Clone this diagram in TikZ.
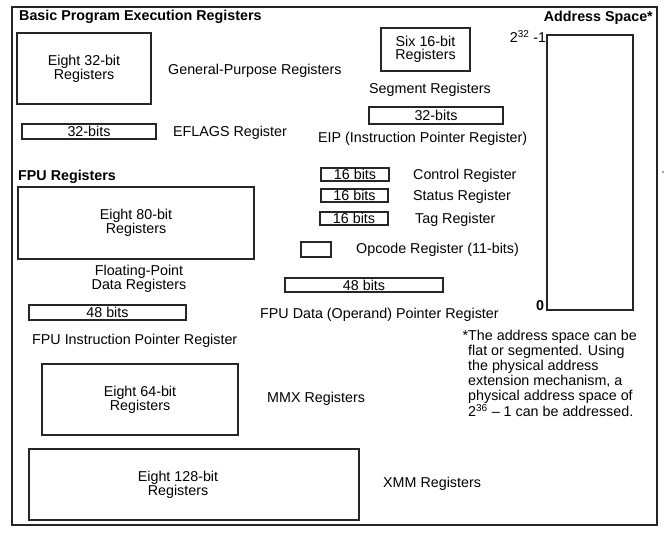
\documentclass[tikz,border=0pt]{standalone}
\usepackage{fontspec}
\setmainfont{Liberation Sans}

\begin{document}
\begin{tikzpicture}[x=1pt,y=-1pt,
    every node/.style={font=\fontsize{14.3}{13}\selectfont, inner sep=0pt},
    regbox/.style={draw=black!85, line width=1.3pt, align=center},
    lbl/.style={anchor=base west},
    hdr/.style={anchor=base west, font=\fontsize{14.3}{13}\selectfont\bfseries}]
    \useasboundingbox (0,0) rectangle (668,532);
    \draw[line width=1.3pt, black!85] (12,7) rectangle (657,525);

    % basic program execution registers
    \node[hdr] (basic) at (19,21) {Basic Program Execution Registers};
    \node[regbox, minimum width=134pt, minimum height=71pt] (gpr) at (84,68.5) {Eight 32-bit\\Registers};
    \node[lbl] (gprlbl) at (168,75) {General-Purpose Registers};
    \node[regbox, minimum width=134pt, minimum height=15pt] (eflags) at (89,131.5) {32-bits};
    \node[lbl] (eflagslbl) at (173,136) {EFLAGS Register};
    \node[regbox, minimum width=89pt, minimum height=43pt] (seg) at (425.5,49.5) {Six 16-bit\\Registers};
    \node[lbl] (seglbl) at (369,93) {Segment Registers};
    \node[regbox, minimum width=134pt, minimum height=17pt] (eip) at (436,115.5) {32-bits};
    \node[lbl] (eiplbl) at (318,142) {EIP (Instruction Pointer Register)};

    % address space
    \node[hdr, anchor=base east] (addrhdr) at (653,22) {Address Space*};
    \node[regbox, minimum width=86pt, minimum height=275pt] (addr) at (590,172.5) {};
    \node[anchor=base east] (top) at ([yshift=-8pt]addr.north west) {2\textsuperscript{32} -1};
    \node[anchor=base east, font=\fontsize{14.3}{13}\selectfont\bfseries] (bot) at ([xshift=-2pt]addr.south west) {0};
    \fill[black!70] (663,172) circle (0.9pt);

    % fpu registers
    \node[hdr] (fpuhdr) at (18,180) {FPU Registers};
    \node[regbox, minimum width=236pt, minimum height=72pt] (fpudata) at (136,223) {Eight 80-bit\\Registers};
    \node[align=center] (fpudatalbl) at (139,279) {Floating-Point\\Data Registers};
    \node[regbox, minimum width=68pt, minimum height=13pt] (ctrl) at (355,174.5) {16 bits};
    \node[lbl] (ctrllbl) at (413,179) {Control Register};
    \node[regbox, minimum width=67pt, minimum height=13pt] (status) at (354.5,195.5) {16 bits};
    \node[lbl] (statuslbl) at (413,200) {Status Register};
    \node[regbox, minimum width=68pt, minimum height=13pt] (tag) at (354,218.5) {16 bits};
    \node[lbl] (taglbl) at (415,223) {Tag Register};
    \node[regbox, minimum width=30pt, minimum height=15pt] (opcode) at (316,249.5) {};
    \node[lbl] (opcodelbl) at (356,253) {Opcode Register (11-bits)};
    \node[regbox, minimum width=158pt, minimum height=14pt] (fdp) at (364,285) {48 bits};
    \node[lbl] (fdplbl) at (260,318) {FPU Data (Operand) Pointer Register};
    \node[regbox, minimum width=157pt, minimum height=15pt] (fip) at (107.5,312.5) {48 bits};
    \node[lbl] (fiplbl) at (32,344) {FPU Instruction Pointer Register};

    % footnote
    \node[anchor=north west, align=left, font=\fontsize{14.3}{15}\selectfont] (note) at (468,330)
        {\llap{*}The address space can be\\flat or segmented. Using\\the physical address\\extension mechanism, a\\physical address space of\\2\textsuperscript{36} -- 1 can be addressed.};

    % mmx and xmm
    \node[regbox, minimum width=196pt, minimum height=71pt] (mmx) at (140,399.5) {Eight 64-bit\\Registers};
    \node[lbl] (mmxlbl) at (267,402) {MMX Registers};
    \node[regbox, minimum width=330pt, minimum height=71pt] (xmm) at (194,484.5) {};
    \node[align=center] (xmmtxt) at ([xshift=-16pt]xmm.center) {Eight 128-bit\\Registers};
    \node[lbl] (xmmlbl) at (383,487) {XMM Registers};
\end{tikzpicture}
\end{document}
